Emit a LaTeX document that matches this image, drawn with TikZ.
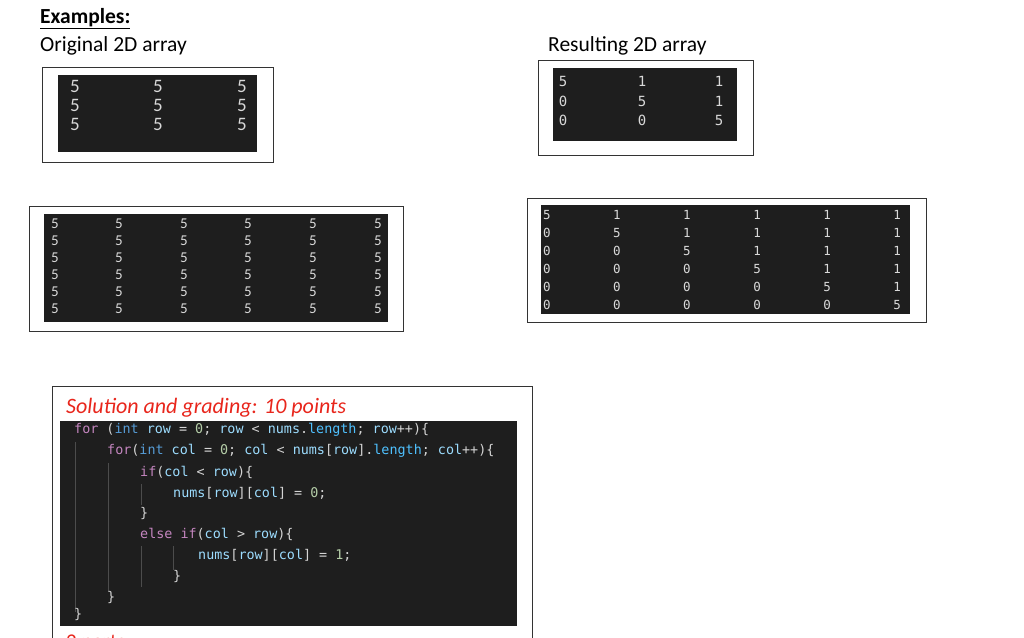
\documentclass[tikz,border=0pt]{standalone}
\usepackage{fontspec}
\setmainfont{Carlito}
\setmonofont{DejaVu Sans Mono}
\begin{document}
\begin{tikzpicture}[x=1pt,y=-1pt,
  frame/.style={draw=black!80,line width=0.8pt},
  dark/.style={fill=codebg},
  num/.style={text=white!85!black,font=\fontsize{19}{19}\selectfont,inner sep=0pt},
  mnum/.style={text=white!85!black,font=\ttfamily\fontsize{14}{14}\selectfont,inner sep=0pt},
  code/.style={anchor=west,inner sep=0pt,text=ctext,font=\ttfamily\fontsize{13.4}{14}\selectfont},
  guide/.style={draw=gray!60!black,line width=0.6pt},
  lbl/.style={anchor=west,inner sep=0pt,font=\fontsize{21.5}{22}\selectfont}]
\definecolor{codebg}{HTML}{1E1E1E}
\definecolor{ctext}{HTML}{D4D4D4}
\definecolor{ckw}{HTML}{C586C0}
\definecolor{cty}{HTML}{569CD6}
\definecolor{cvar}{HTML}{9CDCFE}
\definecolor{cnum}{HTML}{B5CEA8}
\definecolor{clen}{HTML}{4FC1FF}
\definecolor{sred}{HTML}{E8261C}
\useasboundingbox (0,0) rectangle (1024,637);
\clip (0,0) rectangle (1024,637);
\node[lbl,font=\bfseries\fontsize{21.5}{22}\selectfont] (ex) at (40,19) {\underline{Examples:}};
\node[lbl] (orig) at (40,46) {Original 2D array};
\node[lbl] (res) at (548,46) {Resulting 2D array};
% box 1
\draw[frame] (42,67) rectangle (273,162);
\fill[dark] (58,75) rectangle (257,152);
\foreach \x in {75,158,242}{\foreach \y in {86,105,124}{\node[num] at (\x,\y) {5};}}
% box 2
\draw[frame] (538,60) rectangle (753,155);
\fill[dark] (553,68) rectangle (737,141);
\foreach \x/\a/\b/\c in {563/5/0/0,642/1/5/0,719/1/1/5}{
  \node[mnum] at (\x,81) {\a};\node[mnum] at (\x,101) {\b};\node[mnum] at (\x,120) {\c};}
% box 3
\draw[frame] (29,206) rectangle (403,331);
\fill[dark] (44,214) rectangle (388,322);
\foreach \x in {55,119,184,248,313,378}{\foreach \y in {224,241,258,275,292,309}{\node[num,font=\fontsize{15}{15}\selectfont] at (\x,\y) {5};}}
% box 4
\draw[frame] (527,198) rectangle (926,322);
\fill[dark] (541,205) rectangle (910,314);
\foreach \c in {0,...,5}{\foreach \r in {0,...,5}{
  \pgfmathtruncatemacro\v{\c<\r?0:(\c==\r?5:1)}
  \node[mnum,font=\ttfamily\fontsize{12.5}{12.5}\selectfont] at ({547+70*\c},{215+18*\r}) {\v};}}
% box 5
\draw[frame] (52,386) -- (52,650) (532,386) -- (532,650) (52,386) -- (532,386);
\node[lbl,text=sred,font=\itshape\fontsize{22}{22}\selectfont] (sol) at (66,408) {Solution and grading: 10 points};
\fill[dark] (60,421) rectangle (517,626);
\foreach \x/\a/\b in {75/442/612,108/463/592,141/484/505,141/546/587,173/546/570}{\draw[guide] (\x,\a) -- (\x,\b);}
\node[code] at (74,430) {\textcolor{ckw}{for} (\textcolor{cty}{int} \textcolor{cvar}{row} = \textcolor{cnum}{0}; \textcolor{cvar}{row} < \textcolor{cvar}{nums}.\textcolor{clen}{length}; \textcolor{cvar}{row}++)\{};
\node[code] at (107,451) {\textcolor{ckw}{for}(\textcolor{cty}{int} \textcolor{cvar}{col} = \textcolor{cnum}{0}; \textcolor{cvar}{col} < \textcolor{cvar}{nums}[\textcolor{cvar}{row}].\textcolor{clen}{length}; \textcolor{cvar}{col}++)\{};
\node[code] at (140,472) {\textcolor{ckw}{if}(\textcolor{cvar}{col} < \textcolor{cvar}{row})\{};
\node[code] at (173,493) {\textcolor{cvar}{nums}[\textcolor{cvar}{row}][\textcolor{cvar}{col}] = \textcolor{cnum}{0};};
\node[code] at (140,513) {\}};
\node[code] at (140,534) {\textcolor{ckw}{else} \textcolor{ckw}{if}(\textcolor{cvar}{col} > \textcolor{cvar}{row})\{};
\node[code] at (198,555) {\textcolor{cvar}{nums}[\textcolor{cvar}{row}][\textcolor{cvar}{col}] = \textcolor{cnum}{1};};
\node[code] at (173,576) {\}};
\node[code] at (107,597) {\}};
\node[code] at (74,614) {\}};
\node[lbl,text=sred,font=\fontsize{21}{21}\selectfont] (parts) at (66,643) {2 parts:};
\end{tikzpicture}
\end{document}
